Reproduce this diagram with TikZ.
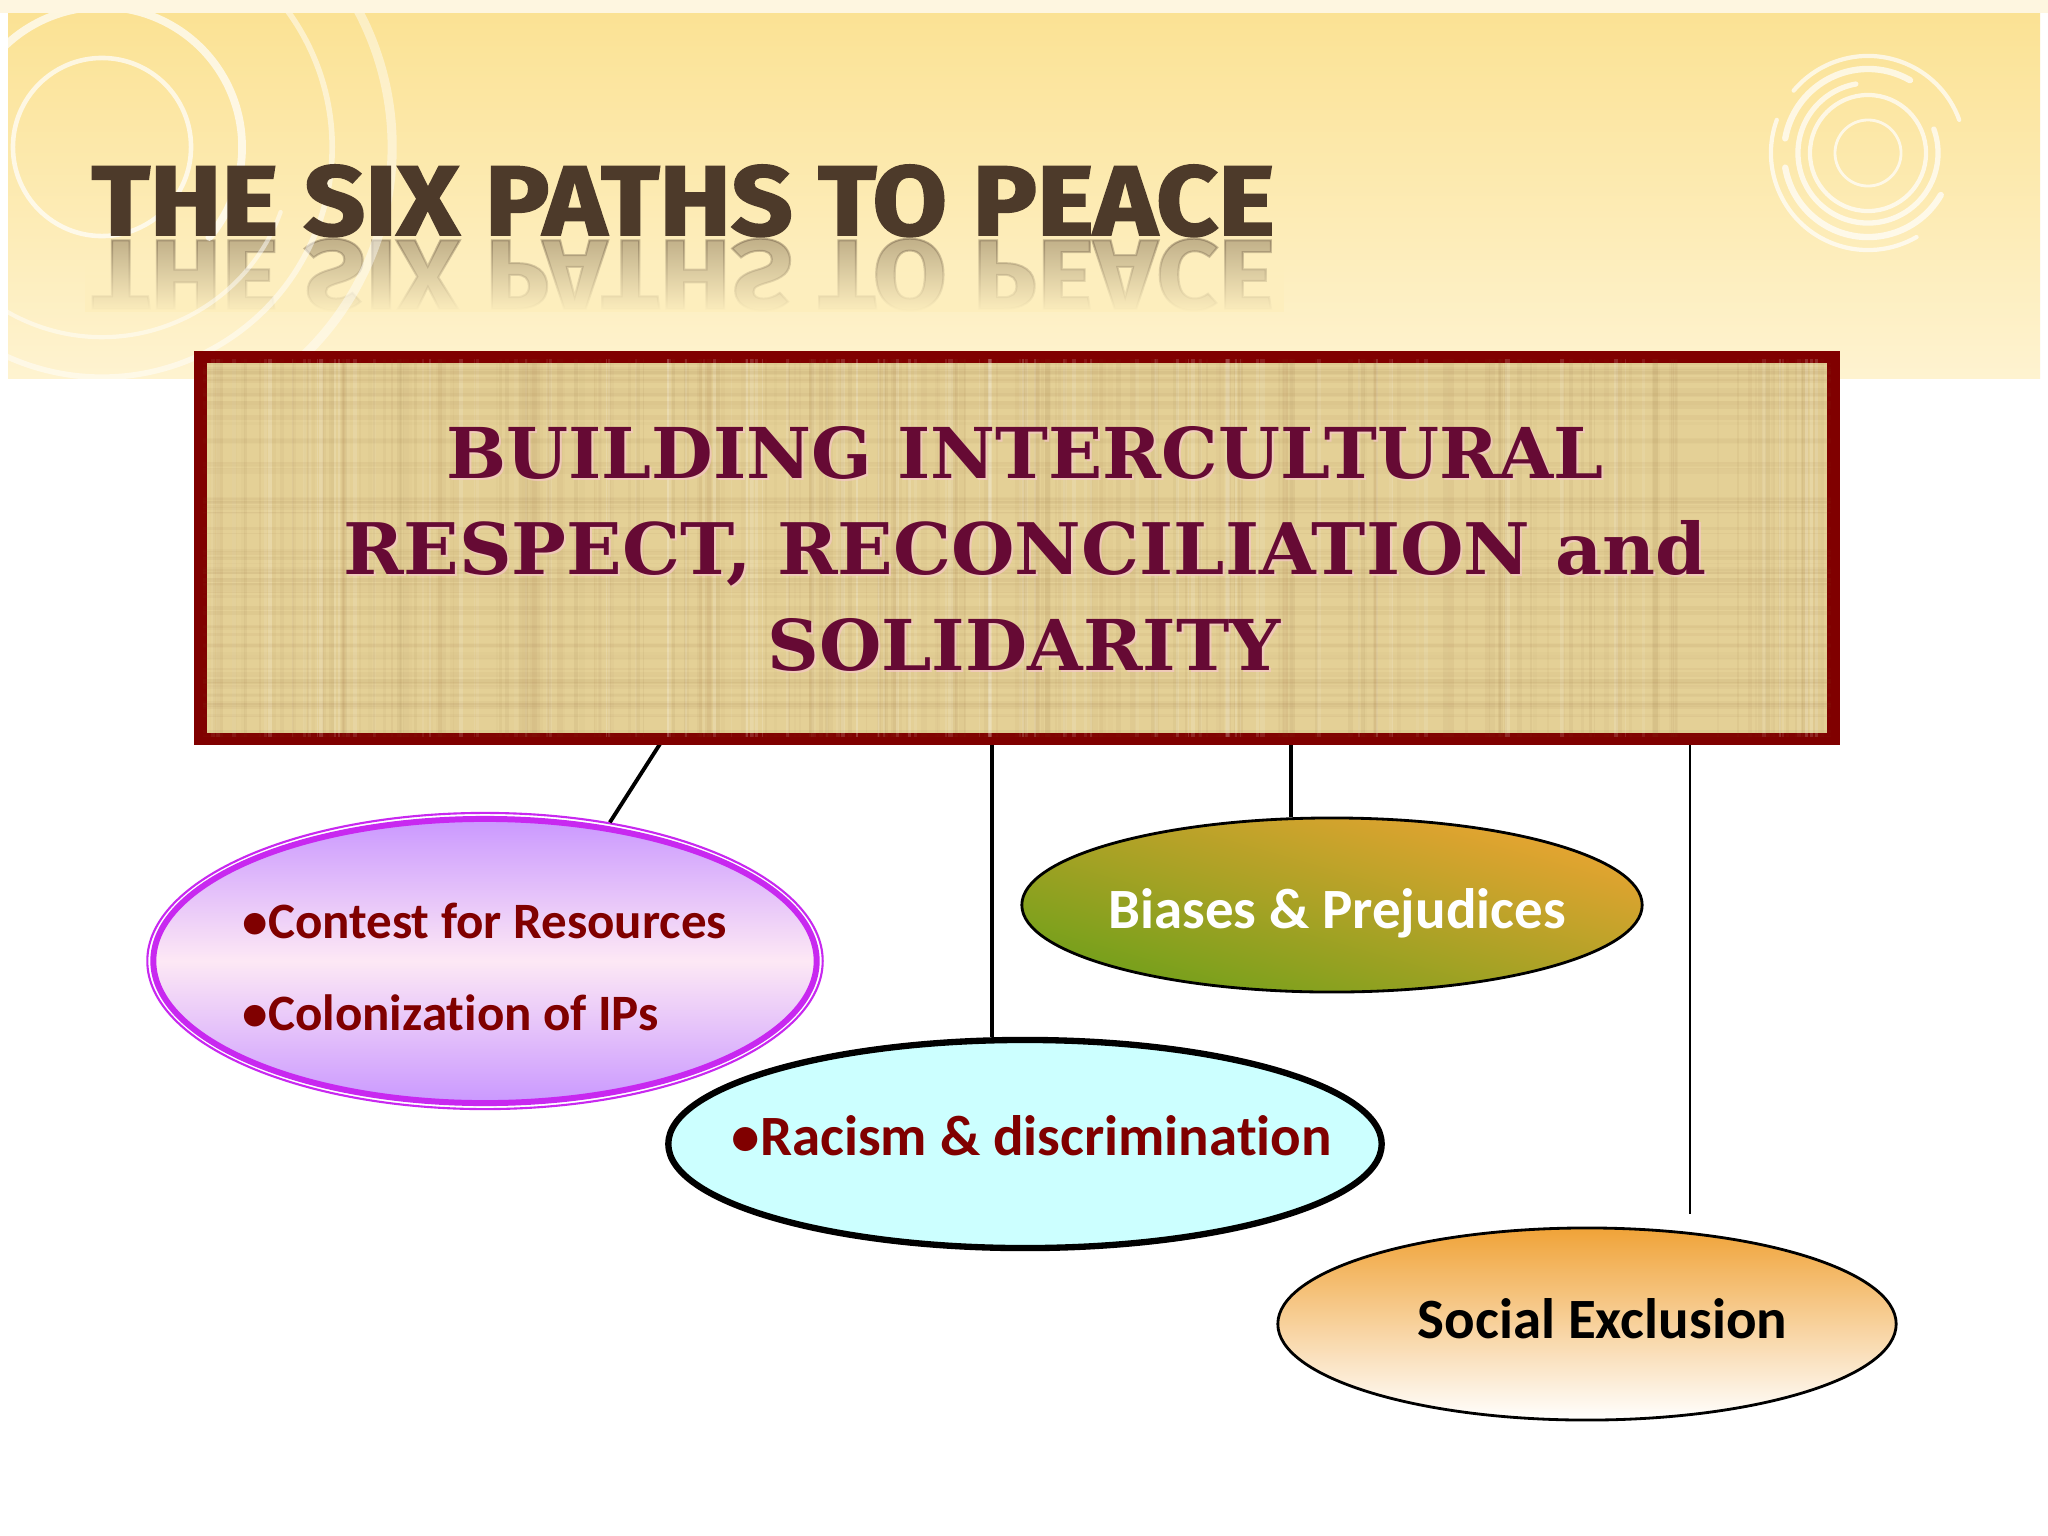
\documentclass[tikz,border=0pt]{standalone}
\usepackage{fontspec}
\usepackage{graphicx}
\usetikzlibrary{shapes.geometric,fadings,calc}
\newfontfamily\carlito{Carlito}[Ligatures=NoCommon]
\newfontfamily\slabfont{DejaVu Serif}
\newfontfamily\titlefont{Fira Sans}[FakeBold=2]
\definecolor{cream}{RGB}{254,246,224}
\definecolor{bandtop}{RGB}{251,226,148}
\definecolor{bandbot}{RGB}{254,243,208}
\definecolor{titlebrown}{RGB}{77,58,42}
\definecolor{boxred}{RGB}{128,0,0}
\definecolor{burlap}{RGB}{228,208,150}
\definecolor{maintext}{RGB}{102,10,52}
\definecolor{glow}{RGB}{246,200,200}
\definecolor{bubblered}{RGB}{128,0,0}
\definecolor{ringmag}{RGB}{200,40,240}
\definecolor{lav}{RGB}{202,152,255}
\definecolor{pinkw}{RGB}{253,232,245}
\definecolor{cyanl}{RGB}{204,255,255}
\definecolor{orangeB}{RGB}{234,164,50}
\definecolor{greenB}{RGB}{112,160,26}
\definecolor{orangeS}{RGB}{240,163,56}
\tikzset{
  circ/.style={white, opacity=0.7, line cap=round},
  conn/.style={black, line width=1.1pt},
  bubble/.style={ellipse, inner sep=0pt},
  smalltext/.style={inner sep=0pt, anchor=base west, text=bubblered,
    font=\carlito\bfseries\fontsize{14.5}{16}\selectfont},
  bigtext/.style={inner sep=0pt, font=\carlito\bfseries\fontsize{16.2}{18}\selectfont},
  mainline/.style={inner sep=0pt, anchor=base, text=maintext},
  glowline/.style={inner sep=0pt, anchor=base, text=glow, opacity=0.7}
}
\begin{document}
\begin{tikzpicture}[x=0.01cm,y=-0.01cm]
\useasboundingbox (0,0) rectangle (2048,1536);
\fill[white] (0,0) rectangle (2048,1536);
% header band
\fill[cream] (0,0) rectangle (2048,13);
\fill[top color=bandtop, bottom color=bandbot] (8,13) rectangle (2040,378);
% title reflection
\node[anchor=north west, inner sep=0pt, text=titlebrown, opacity=0.35] (refl) at (91,238)
  {\scalebox{1}[-1]{\resizebox{11.82cm}{0.70cm}{\titlefont\bfseries THE SIX PATHS TO PEACE}}};
\fill[bandtop!32!bandbot, path fading=north] (85,236) rectangle (1285,312);
% decorative circles
\begin{scope}
\clip (8,13) rectangle (2040,378);
\draw[circ, line width=1.3pt] (102,147) circle (0.89cm);
\draw[circ, line width=2.2pt] ([shift={(150:1.4cm)}]102,147) arc[start angle=150, end angle=-40, radius=1.4cm];
\draw[circ, line width=1.6pt, opacity=0.5] ([shift={(70:2.3cm)}]102,147) arc[start angle=70, end angle=-150, radius=2.3cm];
\draw[circ, line width=2.6pt, opacity=0.45] ([shift={(45:2.9cm)}]102,147) arc[start angle=45, end angle=-120, radius=2.9cm];
\draw[circ, line width=1.2pt, opacity=0.5] ([shift={(-20:1.9cm)}]102,147) arc[start angle=-20, end angle=-160, radius=1.9cm];
\draw[circ, line width=0.8pt] (1868,153) circle (0.33cm);
\draw[circ, line width=1.2pt] (1868,153) circle (0.58cm);
\draw[circ, line width=1.5pt] ([shift={(100:0.70cm)}]1868,153) arc[start angle=100, end angle=380, radius=0.70cm];
\draw[circ, line width=1.8pt] ([shift={(60:0.84cm)}]1868,153) arc[start angle=60, end angle=170, radius=0.84cm];
\draw[circ, line width=1.8pt] ([shift={(190:0.84cm)}]1868,153) arc[start angle=190, end angle=330, radius=0.84cm];
\draw[circ, line width=1.2pt] ([shift={(20:0.97cm)}]1868,153) arc[start angle=20, end angle=140, radius=0.97cm];
\draw[circ, line width=1.2pt] ([shift={(160:0.97cm)}]1868,153) arc[start angle=160, end angle=300, radius=0.97cm];
\end{scope}
% title
\node[anchor=base west, inner sep=0pt, text=titlebrown] (title) at (91,235)
  {\resizebox{11.82cm}{0.70cm}{\titlefont\bfseries THE SIX PATHS TO PEACE}};

% ellipses
\node[bubble, draw=ringmag, line width=0.6pt, minimum width=6.75cm, minimum height=2.96cm] (contestO) at (485,961) {};
\node[bubble, draw=ringmag, line width=1.7pt, top color=lav, bottom color=lav, middle color=pinkw,
  minimum width=6.63cm, minimum height=2.84cm] (contest) at (485,961) {};
\node[bubble, draw=black, line width=0.8pt, bottom color=greenB, top color=orangeB, shading angle=-16,
  minimum width=6.20cm, minimum height=1.74cm] (biases) at (1332,905) {};
\node[bubble, draw=black, line width=1.8pt, fill=cyanl,
  minimum width=7.13cm, minimum height=2.08cm] (racism) at (1025,1144) {};
\node[bubble, draw=black, line width=0.8pt, top color=orangeS, bottom color=white,
  minimum width=6.18cm, minimum height=1.92cm] (social) at (1587,1324) {};
\coordinate (sx) at (1690,1214);

% main box
\node[draw=boxred, line width=2.3pt, fill=burlap, minimum width=16.28cm, minimum height=3.78cm, inner sep=0pt]
  (box) at (1017,548) {};
% connectors
\draw[conn] ($(box.south west)!0.283!(box.south east)$) -- (contestO.48);
\draw[conn] (box.south -| racism.107) -- (racism.107);
\draw[conn] (box.south -| biases.115) -- (biases.115);
\draw[black, line width=0.75pt] (box.south -| sx) -- (sx);
% texture
\begin{scope}
\clip (203,359) rectangle (1831,737);
\pgfmathsetseed{42}
\foreach \i in {1,...,200}{
  \pgfmathsetmacro{\xa}{203+1628*rnd}
  \pgfmathsetmacro{\op}{0.02+0.06*rnd}
  \pgfmathsetmacro{\lw}{0.3+1.4*rnd}
  \draw[brown!70!black, opacity=\op, line width=\lw pt] (\xa,359) -- (\xa,737);
}
\foreach \i in {1,...,100}{
  \pgfmathsetmacro{\xa}{203+1628*rnd}
  \pgfmathsetmacro{\op}{0.05+0.12*rnd}
  \pgfmathsetmacro{\lw}{0.3+1.0*rnd}
  \draw[white, opacity=\op, line width=\lw pt] (\xa,359) -- (\xa,737);
}
\foreach \i in {1,...,80}{
  \pgfmathsetmacro{\ya}{359+378*rnd}
  \pgfmathsetmacro{\op}{0.02+0.04*rnd}
  \pgfmathsetmacro{\lw}{0.3+1.0*rnd}
  \draw[brown!70!black, opacity=\op, line width=\lw pt] (203,\ya) -- (1831,\ya);
}
\end{scope}
\draw[boxred, line width=2.3pt] (box.south west) rectangle (box.north east);

% main text
\node[glowline] (g1) at (1027,480) {\resizebox{11.56cm}{0.52cm}{\slabfont\bfseries BUILDING INTERCULTURAL}};
\node[glowline] (g2) at (1027,576) {\resizebox{13.63cm}{0.54cm}{\slabfont\bfseries RESPECT, RECONCILIATION and}};
\node[glowline] (g3) at (1026,672) {\resizebox{5.13cm}{0.52cm}{\slabfont\bfseries SOLIDARITY}};
\node[mainline] (l1) at (1025,478) {\resizebox{11.56cm}{0.52cm}{\slabfont\bfseries BUILDING INTERCULTURAL}};
\node[mainline] (l2) at (1025,574) {\resizebox{13.63cm}{0.54cm}{\slabfont\bfseries RESPECT, RECONCILIATION and}};
\node[mainline] (l3) at (1024,670) {\resizebox{5.13cm}{0.52cm}{\slabfont\bfseries SOLIDARITY}};

% bubble texts
\node[smalltext] (t1) at (242,938) {•Contest for Resources};
\node[smalltext] (t2) at (242,1030) {•Colonization of IPs};
\node[bigtext, anchor=base, text=white] (t3) at (1337,928) {Biases \& Prejudices};
\node[bigtext, anchor=base west, text=bubblered] (t4) at (731,1155) {•Racism \& discrimination};
\node[bigtext, anchor=base west, text=black] (t5) at (1417,1338) {Social Exclusion};
\end{tikzpicture}
\end{document}
